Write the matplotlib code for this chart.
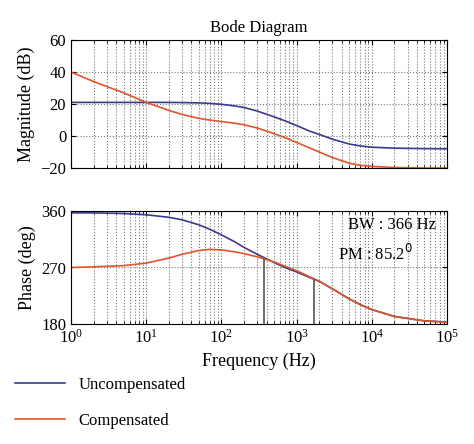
import matplotlib
matplotlib.use("Agg")
import matplotlib.pyplot as plt
from matplotlib.lines import Line2D

freq = [1, 2, 5, 10, 20, 30, 50, 70, 100, 150, 200, 300, 500, 700, 1000, 1500, 2000, 3000, 5000, 7000,
        10000, 20000, 50000, 100000]
mag_unc = [21, 21, 21, 21, 21, 20.9, 20.7, 20.4, 19.8, 18.8, 17.8, 15.6, 12, 9.5, 6.5, 3, 1, -2, -5, -6.2,
           -7, -7.6, -7.9, -8]
mag_comp = [40, 34, 27, 21, 16, 13.5, 11, 10, 9, 8, 7, 5, 1.5, -1, -4, -7.5, -10, -13.5, -17, -18.3,
            -19, -19.7, -20, -20]
ph_unc = [357, 357, 356, 354, 350, 346, 338, 331, 322, 311, 302, 291, 278, 270, 263, 254, 248, 236, 220, 211,
          203, 192, 185, 183]
ph_comp = [270, 271, 273, 277, 285, 291, 297, 299, 298, 295, 292, 287, 279, 272, 265, 255, 248, 236, 220, 211,
           203, 192, 185, 183]
marker_f = [366, 1700]
marker_ph = [284, 251]

plt.rcParams['font.family'] = ['Liberation Serif', 'DejaVu Serif']
fig = plt.figure(figsize=(4.74, 4.44), dpi=100)
blue = '#3a3a8c'
red = '#e0552a'
ax1 = fig.add_axes([71/474, 1-168/444, 376/474, 128/444])
ax2 = fig.add_axes([71/474, 1-324/444, 376/474, 113/444])
for ax in (ax1, ax2):
    ax.set_xscale('log')
    ax.set_xlim(1, 1e5)
    ax.grid(True, which='both', linestyle=':', color='#777777', linewidth=0.8)
    ax.tick_params(direction='in', labelsize=12, which='both', top=True, right=True)
ax1.plot(freq, mag_unc, color=blue, lw=1.2)
ax1.plot(freq, mag_comp, color=red, lw=1.2)
ax1.set_ylim(-20, 60)
ax1.set_yticks([-20, 0, 20, 40, 60])
ax1.set_xticklabels([])
ax1.set_ylabel('Magnitude (dB)', fontsize=13)
ax1.set_title('Bode Diagram', fontsize=12)
ax2.plot(freq, ph_unc, color=blue, lw=1.2)
ax2.plot(freq, ph_comp, color=red, lw=1.2)
for f, p in zip(marker_f, marker_ph):
    ax2.vlines(f, 180, p, color='#555555', lw=1.2)
ax2.set_ylim(180, 360)
ax2.set_yticks([180, 270, 360])
ax2.set_ylabel('Phase (deg)', fontsize=13)
ax2.set_xlabel('Frequency (Hz)', fontsize=13)
ax2.text(0.97, 0.88, 'BW : 366 Hz', transform=ax2.transAxes, ha='right', va='center', fontsize=12)
ax2.text(0.91, 0.62, 'PM : 85.2$^0$', transform=ax2.transAxes, ha='right', va='center', fontsize=12)
handles = [Line2D([], [], color=blue, lw=1.2), Line2D([], [], color=red, lw=1.2)]
fig.legend(handles, ['Uncompensated', 'Compensated'], loc='upper left',
           bbox_to_anchor=(0.0, 1-362/444), frameon=False, fontsize=12,
           labelspacing=1.2, handlelength=3)
fig.savefig('out.png', dpi=100)
